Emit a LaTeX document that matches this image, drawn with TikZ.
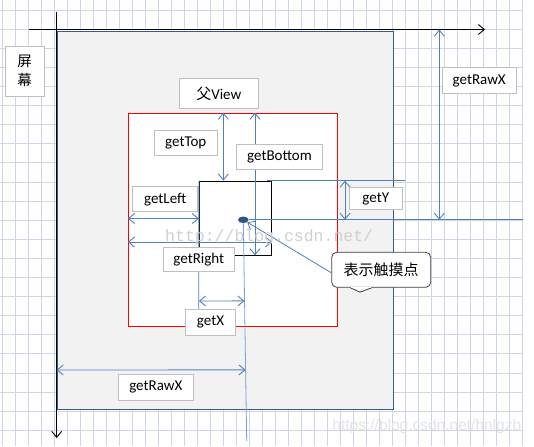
\documentclass[tikz,border=0pt]{standalone}
\usepackage{fontspec}
\setmainfont{Carlito}
\newfontfamily\cjkfont{Noto Sans CJK SC}
\newfontfamily\markfont{Liberation Mono}
\newfontfamily\wmfont{Liberation Sans}
\usetikzlibrary{calc,positioning,shapes.geometric,arrows.meta}
\definecolor{gridblue}{RGB}{204,214,230}
\definecolor{screenfill}{RGB}{242,242,242}
\definecolor{screenedge}{RGB}{56,93,138}
\definecolor{lineblue}{RGB}{79,129,189}
\definecolor{boxgray}{RGB}{191,191,191}
\definecolor{touchblue}{RGB}{47,85,140}
\definecolor{calloutgray}{RGB}{64,64,64}
\definecolor{wmgray}{RGB}{208,208,208}
\tikzset{
    gridline/.style={draw=gridblue, line width=0.8pt},
    axisline/.style={draw=black, line width=0.9pt},
    screenbox/.style={draw=screenedge, fill=screenfill, line width=0.9pt, inner sep=0pt},
    parentbox/.style={draw=red, fill=white, line width=0.9pt, inner sep=0pt},
    childbox/.style={draw=black, line width=0.8pt, inner sep=0pt},
    touchdot/.style={ % requires library shapes.geometric
        ellipse,
        fill=touchblue,
        minimum width=10.6pt,
        minimum height=6.6pt,
        inner sep=0pt
    },
    dimline/.style={draw=lineblue, line width=0.9pt},
    guideline/.style={draw=lineblue, line width=0.8pt},
    labelbox/.style={
        draw=boxgray,
        fill=white,
        line width=0.8pt,
        inner sep=0pt,
        font=\fontsize{15}{17}\selectfont
    },
    calloutbox/.style={
        draw=calloutgray,
        fill=white,
        rounded corners=5pt,
        line width=0.8pt,
        inner sep=0pt,
        font=\cjkfont\fontsize{15}{17}\selectfont
    },
    calloutedge/.style={draw=calloutgray, line width=0.8pt}
}
\begin{document}
\begin{tikzpicture}[x=1pt, y=-1pt, >={Straight Barb[length=6pt,width=10pt]}]
        \def\gw{13}
        \def\gh{19.1}
        \useasboundingbox (0,0) rectangle (534,446);
        % grid paper
        \foreach \k in {0,...,40}
            \draw[gridline] ({2.7+\gw*\k},0) -- ({2.7+\gw*\k},446);
        \foreach \k in {0,...,22}
            \draw[gridline] (0,{10+\gh*\k}) -- (523,{10+\gh*\k});

        \coordinate (xstart) at (28.5,29.5);
        \coordinate (xend) at (485,29.5);
        \coordinate (ystart) at (56.7,12);
        \coordinate (yend) at (56.7,438);
        \draw[axisline,->] (xstart) -- (xend);
        \draw[axisline,->] (ystart) -- (yend);

        \node[screenbox, minimum width=336pt, minimum height=378pt] (screen) at (225,220) {};
        \node[parentbox, minimum width=209pt, minimum height=213.3pt] (parent) at (232.8,219.7) {};
        \node[childbox, minimum width=72.4pt, minimum height=74pt] (child) at (235.5,218) {};
        \node[touchdot] (touch) at (243.3,219.8) {};

        \coordinate (topx) at (223.3,0);
        \coordinate (bottomx) at (255,0);
        \coordinate (lefty) at (0,218.5);
        \coordinate (righty) at (0,242);
        \coordinate (xrow) at (240,301);
        \coordinate (rawrow) at (240,370);
        \coordinate (ycol) at (345,0);
        \coordinate (rawcol) at (439.3,0);
        \coordinate (touchfoot) at (246.7,441);
        \coordinate (xfoot) at (198.8,309);
        \coordinate (topext) at (405,180.5);
        \coordinate (rightend) at (523,219.8);

        \draw[guideline, draw=lineblue!75] (touch) -- (touchfoot);
        \draw[guideline] (touch) -- (rightend);
        \draw[guideline] (child.north west) -- (xfoot);
        \draw[guideline] ([xshift=-5pt]child.north east) -- (topext);

        \draw[dimline,<->] (parent.north -| topx) -- (child.north -| topx);
        \draw[dimline,<->] (parent.north -| bottomx) -- (child.south -| bottomx);
        \draw[dimline,<->] (parent.west |- lefty) -- (child.west |- lefty);
        \draw[dimline,<->] (parent.west |- righty) -- (child.east |- righty);
        \draw[dimline,<->] (child.west |- xrow) -- ($(touch)!(xrow)!(touchfoot)$);
        \draw[dimline,<->] (screen.west |- rawrow) -- ($(touch)!(rawrow)!(touchfoot)$);
        \draw[dimline,<->] (child.north -| ycol) -- (touch -| ycol);
        \draw[dimline,<->] (xend -| rawcol) -- (touch -| rawcol);

        \node[labelbox, minimum width=39.3pt, minimum height=50pt, align=center, font=\cjkfont\fontsize{14.5}{19}\selectfont] (screenlbl) at (24.7,71.3) {屏\\幕};
        \node[labelbox, minimum width=79pt, minimum height=29.6pt] (parentlbl) at (218.8,93.5) {{\cjkfont 父}View\hspace{10pt}};
        \node[labelbox, minimum width=63pt, minimum height=24.3pt] (toplbl) at (185.8,142.9) {getTop};
        \node[labelbox, minimum width=85.6pt, minimum height=25.3pt] (bottomlbl) at (279.5,156.7) {getBottom};
        \node[labelbox, minimum width=65pt, minimum height=25pt] (leftlbl) at (165.2,199.2) {getLeft};
        \node[labelbox, minimum width=71pt, minimum height=23.3pt] (rightlbl) at (198.8,259.3) {getRight};
        \node[labelbox, minimum width=49.6pt, minimum height=26pt] (xlbl) at (210.5,322.3) {getX};
        \node[labelbox, minimum width=75pt, minimum height=25.7pt] (rawxlbl) at (155.8,387.2) {getRawX};
        \node[labelbox, minimum width=53pt, minimum height=21.6pt] (ylbl) at (375.8,198.5) {getY};
        \node[labelbox, minimum width=73.7pt, minimum height=25.6pt] (rawylbl) at (479.2,80.5) {getRawX};

        \node[calloutbox, minimum width=99pt, minimum height=35pt] (callout) at (381.2,269.8) {表示触摸点};
        \filldraw[calloutedge, fill=white] ($(callout.south)+(-31.2,0)$) -- ($(callout.south)+(-21.2,4.4)$) -- ($(callout.south)+(-9.2,0)$);
        \draw[white, line width=1.4pt] ($(callout.south)+(-30.4,0)$) -- ($(callout.south)+(-10,0)$);
        \draw[guideline,->] ([yshift=-3pt]callout.west) -- (touch);

        \node[anchor=base west, inner sep=0pt, text=wmgray, font=\markfont\fontsize{16.5}{18}\selectfont] (mark) at (165,241.7) {http://blog.csdn.net/};
        \node[anchor=west, inner sep=0pt, text=wmgray!60, font=\wmfont\fontsize{15.5}{18}\selectfont] (urlmark) at (332.3,426) {https://blog.csdn.net/hnlgzb};
\end{tikzpicture}
\end{document}
